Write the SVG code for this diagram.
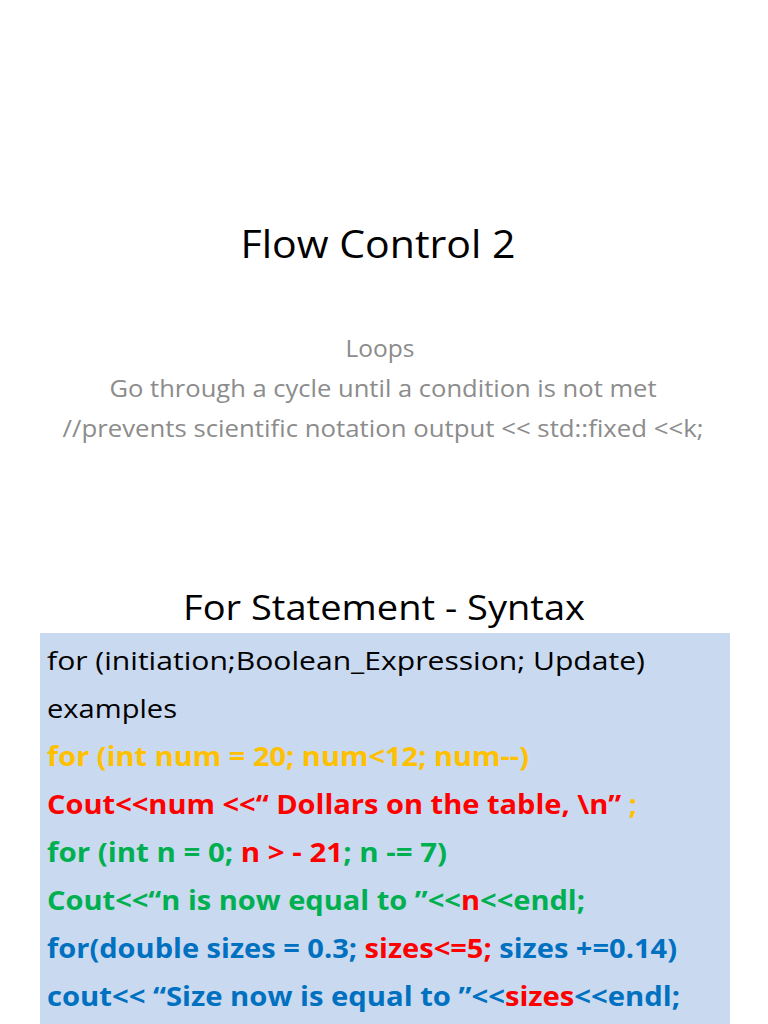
<svg xmlns="http://www.w3.org/2000/svg" width="768" height="1024" viewBox="0 0 768 1024">
<style>
text{font-family:"Open Sans","Liberation Sans",sans-serif}
.sub{font-size:23px;fill:#8c8c8c;text-anchor:middle}
.code{font-size:26px}
.b{font-weight:bold}
.o{fill:#ffc000}.r{fill:#ff0000}.g{fill:#00b050}.bl{fill:#0070c0}
</style>
<rect width="768" height="1024" fill="#ffffff"/>
<g id="title"><text x="378" y="258" font-size="38" text-anchor="middle" textLength="275" lengthAdjust="spacingAndGlyphs">Flow Control 2</text></g>
<g id="subtitle">
<text class="sub" x="380" y="357" textLength="69" lengthAdjust="spacingAndGlyphs">Loops</text>
<text class="sub" x="383" y="397" textLength="547" lengthAdjust="spacingAndGlyphs">Go through a cycle until a condition is not met</text>
<text class="sub" x="383" y="437" textLength="641" lengthAdjust="spacingAndGlyphs">//prevents scientific notation output &lt;&lt; std::fixed &lt;&lt;k;</text>
</g>
<g id="heading"><text x="384" y="620" font-size="34" text-anchor="middle" textLength="402" lengthAdjust="spacingAndGlyphs">For Statement - Syntax</text></g>
<g id="codebox">
<rect x="40" y="633" width="690" height="391" fill="#c9d9ef"/>
<text class="code" x="47" y="670" textLength="598" lengthAdjust="spacingAndGlyphs">for (initiation;Boolean_Expression; Update)</text>
<text class="code" x="47" y="718" textLength="130" lengthAdjust="spacingAndGlyphs">examples</text>
<text class="code b o" x="47" y="766" textLength="482" lengthAdjust="spacingAndGlyphs">for (int num = 20; num&lt;12; num--)</text>
<text class="code b r" x="47" y="814" textLength="590" lengthAdjust="spacingAndGlyphs">Cout&lt;&lt;num &lt;&lt;“ Dollars on the table, \n” <tspan class="o">;</tspan></text>
<text class="code b g" x="47" y="862" textLength="400" lengthAdjust="spacingAndGlyphs">for (int n = 0; <tspan class="r">n &gt; - 21</tspan>; n -= 7)</text>
<text class="code b g" x="47" y="910" textLength="538" lengthAdjust="spacingAndGlyphs">Cout&lt;&lt;“n is now equal to ”&lt;&lt;<tspan class="r">n</tspan>&lt;&lt;endl;</text>
<text class="code b bl" x="47" y="958" textLength="630" lengthAdjust="spacingAndGlyphs">for(double sizes = 0.3; <tspan class="r">sizes&lt;=5;</tspan> sizes +=0.14)</text>
<text class="code b bl" x="47" y="1006" textLength="633" lengthAdjust="spacingAndGlyphs">cout&lt;&lt; “Size now is equal to ”&lt;&lt;<tspan class="r">sizes</tspan>&lt;&lt;endl;</text>
</g>
</svg>
